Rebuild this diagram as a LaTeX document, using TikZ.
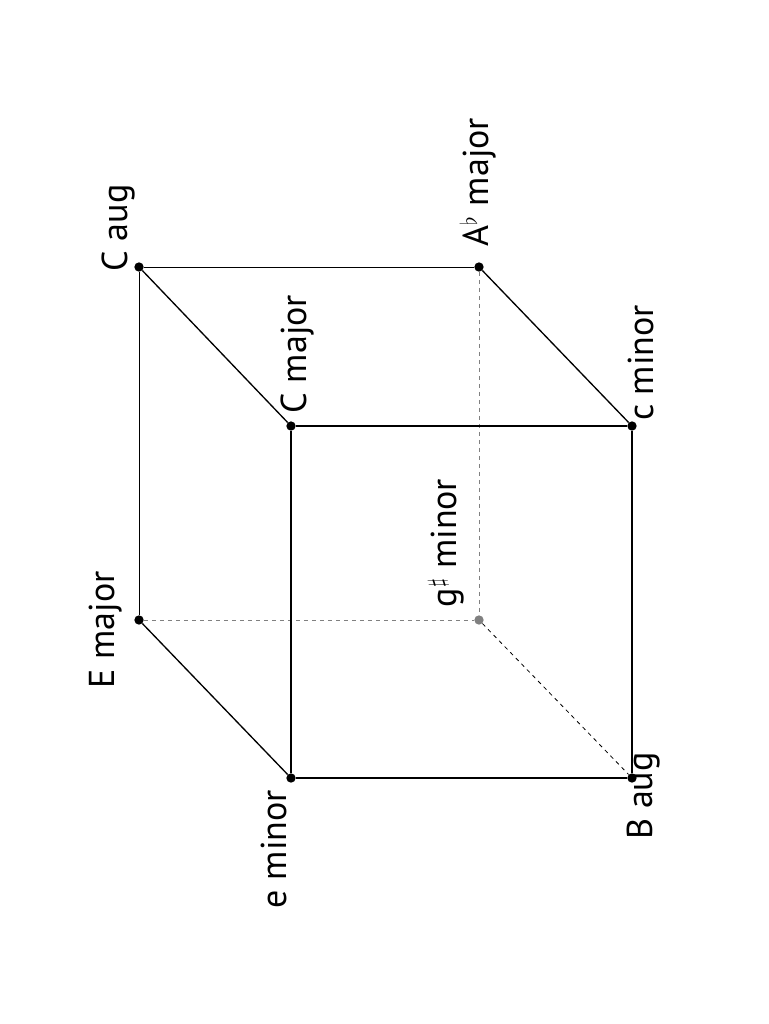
\documentclass[tikz,border=0pt]{standalone}
\usepackage{fontspec}
\setmainfont{PT Sans}
\tikzset{
  vert/.style={circle,fill=black,inner sep=0pt,minimum size=7pt},
  lab/.style={rotate=90,inner sep=0pt,font=\fontsize{27}{30}\selectfont},
  thick edge/.style={line width=1.6pt},
  mid edge/.style={line width=1pt},
  thin edge/.style={line width=0.5pt},
  hidden/.style={dashed,line width=0.4pt,gray},
}
\begin{document}
\begin{tikzpicture}[x=0.75pt,y=0.75pt,yscale=-1,xscale=1]
	\useasboundingbox (0,0) rectangle (768,1024);
	% vertices
	\node[vert] (caug) at (139,267) {};
	\node[vert] (abmaj) at (479,267) {};
	\node[vert] (cmaj) at (291,426) {};
	\node[vert] (cmin) at (632,426) {};
	\node[vert] (emaj) at (139,620) {};
	\node[vert,fill=gray] (gsmin) at (479,620) {};
	\node[vert] (emin) at (291,778) {};
	\node[vert] (baug) at (632,778) {};
	% labels
	\node[lab] at (118,228) {C aug};
	\node[lab] at (478,182) {A$^\flat$ major};
	\node[lab] at (297,354) {C major};
	\node[lab] at (641,363) {c minor};
	\node[lab] at (446,543) {g$^\sharp$ minor};
	\node[lab] at (106,630) {E major};
	\node[lab] at (274,849) {e minor};
	\node[lab] at (644,796) {B aug};
	% edges
	\draw[hidden] (emaj) -- (gsmin);
	\draw[hidden] (abmaj) -- (gsmin);
	\draw[dashed,line width=0.6pt] (gsmin) -- (baug);
	\draw[thin edge] (caug) -- (abmaj);
	\draw[thin edge] (caug) -- (emaj);
	\draw[mid edge] (caug) -- (cmaj);
	\draw[mid edge] (abmaj) -- (cmin);
	\draw[mid edge] (emaj) -- (emin);
	\draw[thick edge] (cmaj) -- (cmin) -- (baug) -- (emin) -- (cmaj);
\end{tikzpicture}
\end{document}
